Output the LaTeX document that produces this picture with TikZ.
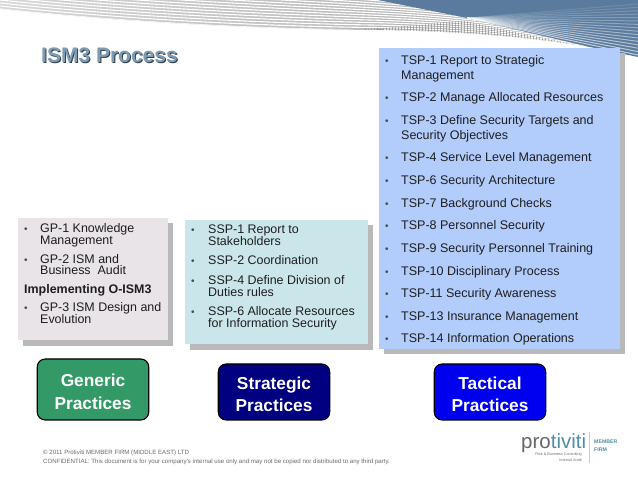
\documentclass[tikz,border=0pt]{standalone}
\usepackage{fontspec}
\setmainfont{Liberation Sans}
\usetikzlibrary{calc}
\definecolor{greybox}{HTML}{E8E4E8}
\definecolor{cyanbox}{HTML}{CBE6EA}
\definecolor{bluebox}{HTML}{B2CCFB}
\definecolor{shadowc}{HTML}{B9B9B9}
\definecolor{gengreen}{HTML}{339966}
\definecolor{stratblue}{HTML}{000080}
\definecolor{tacblue}{HTML}{0000F0}
\definecolor{titlefill}{HTML}{7D9CB4}
\definecolor{titleshadow}{HTML}{2F3F4C}
\definecolor{txt}{HTML}{1E1E1E}
\definecolor{foot}{HTML}{6A6A6A}
\definecolor{teal}{HTML}{4F8FA5}
\definecolor{swblue}{HTML}{5A7B9E}
\tikzset{x=1pt,y=-1pt,
 itemtxt/.style={anchor=base west,inner sep=0pt,text=txt,font=\fontsize{12.45pt}{13pt}\selectfont},
 tsptxt/.style={anchor=base west,inner sep=0pt,text=txt,font=\fontsize{12.5pt}{13pt}\selectfont},
 bullettxt/.style={anchor=base west,inner sep=0pt,text=black!70,font=\fontsize{10pt}{10pt}\selectfont},
 practice/.style={draw=black,line width=1.1pt,rounded corners=8pt,minimum width=111.5pt,inner sep=0pt},
 practicetxt/.style={text=white,align=center,inner sep=0pt,font=\bfseries\fontsize{17.3pt}{22.5pt}\selectfont},
 foottxt/.style={anchor=base west,inner sep=0pt,text=foot,font=\fontsize{6.12pt}{7pt}\selectfont},
}
\begin{document}
\begin{tikzpicture}
\useasboundingbox (0,0) rectangle (638,478);
\fill[white] (0,0) rectangle (638,478);
% top swoosh: grey band
\begin{scope}
\clip (0,0) -- (378,0) -- (467,18) -- (590,47) .. controls (533,38) and (480,32) .. (383,30) .. controls (300,30) and (150,25) .. (0,9) -- cycle;
\shade[left color=black!16,right color=black!34] (0,0) rectangle (600,50);
\foreach \k in {0,...,14}
  \draw[white,line width=1.1pt] (0,{9-3*\k}) .. controls (150,{25-3*\k}) and (300,{30-3*\k}) .. (383,{30-2.4*\k}) .. controls (480,{32-2*\k}) and (533,{38-1.5*\k}) .. (600,{48-1.2*\k});
\draw[black!55,line width=1pt] (240,29.4) .. controls (300,30.5) and (340,30) .. (383,30);
\begin{scope}
\clip (360,32) -- (360,29) .. controls (410,27) and (440,22) .. (465,21) -- (590,48) -- (590,50) -- cycle;
\foreach \k in {0,...,74}
  \draw[black!50,opacity=.6,line width=.8pt] ({365+3*\k},18) -- ({365+3*\k},50);
\end{scope}
\end{scope}
% top swoosh: blue fan
\begin{scope}
\clip (378,0) -- (638,0) -- (638,57) -- (590,47) -- (467,18) -- cycle;
\fill[swblue] (378,0) rectangle (638,60);
\foreach \k in {0,...,15}
  \draw[white,opacity={0.12+0.035*\k},line width=1pt] (467,18) -- (638,{4+3.4*\k});
\end{scope}
% panels
\fill[shadowc] (23,223) rectangle (173,346);
\fill[greybox] (18,218) rectangle (168,340);
\fill[shadowc] (190,225) rectangle (373,350);
\fill[cyanbox] (185,220) rectangle (368,344);
\fill[shadowc] (384,53) rectangle (625,354);
\fill[bluebox] (379,48) rectangle (620,349);
% title
\node (titleb) [anchor=base west,inner sep=0pt,text=titleshadow,font=\bfseries\fontsize{21pt}{23pt}\selectfont] at (42,63.5) {ISM3 Process};
\node (title) [anchor=base west,inner sep=0pt,text=titlefill,font=\bfseries\fontsize{21pt}{23pt}\selectfont] at (41,62.5) {ISM3 Process};
% GP
\node (g0) [bullettxt] at (24,233) {•};
\node (g1) [itemtxt] at (40,233) {GP-1 Knowledge};
\node (g2) [itemtxt] at (40,245) {Management};
\node (g3) [bullettxt] at (24,264) {•};
\node (g4) [itemtxt] at (40,264) {GP-2 ISM and};
\node (g5) [itemtxt] at (40,275) {Business\ \ Audit};
\node (g6) [itemtxt,font=\bfseries\fontsize{12.45pt}{13pt}\selectfont] at (24,294) {Implementing O-ISM3};
\node (g7) [bullettxt] at (24,312) {•};
\node (g8) [itemtxt] at (40,312) {GP-3 ISM Design and};
\node (g9) [itemtxt] at (40,323.5) {Evolution};
% SSP
\node (s0) [bullettxt] at (191,234) {•};
\node (s1) [itemtxt] at (208,234) {SSP-1 Report to};
\node (s2) [itemtxt] at (208,246) {Stakeholders};
\node (s3) [bullettxt] at (191,265) {•};
\node (s4) [itemtxt] at (208,265) {SSP-2 Coordination};
\node (s5) [bullettxt] at (191,285) {•};
\node (s6) [itemtxt] at (208,285) {SSP-4 Define Division of};
\node (s7) [itemtxt] at (208,297) {Duties rules};
\node (s8) [bullettxt] at (191,316) {•};
\node (s9) [itemtxt] at (208,316) {SSP-6 Allocate Resources};
\node (s10) [itemtxt] at (208,328) {for Information Security};
% TSP
\foreach \n/\yy/\t in {1/65/TSP-1 Report to Strategic,1b/80/Management,2/102/TSP-2 Manage Allocated Resources,3/125/TSP-3 Define Security Targets and,3b/140/Security Objectives,4/162/TSP-4 Service Level Management,6/185/TSP-6 Security Architecture,7/208/TSP-7 Background Checks,8/230/TSP-8 Personnel Security,9/253/TSP-9 Security Personnel Training,10/276/TSP-10 Disciplinary Process,11/298/TSP-11 Security Awareness,13/321/TSP-13 Insurance Management,14/343/TSP-14 Information Operations}
  {\node (t\n) [tsptxt] at (401,\yy) {\t};}
\foreach \n/\yy in {1/65,2/102,3/125,4/162,6/185,7/208,8/230,9/253,10/276,11/298,13/321,14/343}
  {\node (b\n) [bullettxt] at (385,\yy) {•};}
% practices
\node (gp) [practice,fill=gengreen,minimum height=61pt] at (93,389.5) {};
\node (gpt) [practicetxt] at (93,392) {Generic\\Practices};
\node (sp) [practice,fill=stratblue,minimum height=56pt] at (274,392) {};
\node (spt) [practicetxt] at (274,394.5) {Strategic\\Practices};
\node (tp) [practice,fill=tacblue,minimum height=56pt] at (490,392) {};
\node (tpt) [practicetxt] at (490,394.5) {Tactical\\Practices};
% footer
\node (f1) [foottxt] at (43,455) {© 2011 Protiviti MEMBER FIRM (MIDDLE EAST) LTD};
\node (f2) [foottxt] at (43,463.5) {CONFIDENTIAL: This document is for your company's internal use only and may not be copied nor distributed to any third party.};
% logo
\node (logo) [anchor=base west,inner sep=0pt,text=black!60,font=\fontsize{20.5pt}{21pt}\selectfont] at (521,449) {pro\textcolor{teal}{tiviti}};
\node (l2) [anchor=base east,inner sep=0pt,text=black!55,font=\fontsize{3.8pt}{4pt}\selectfont] at (582,456) {Risk \& Business Consulting};
\node (l3) [anchor=base east,inner sep=0pt,text=black!55,font=\fontsize{3.8pt}{4pt}\selectfont] at (582,461.5) {Internal Audit};
\draw[black!20,line width=.6pt] (589,432) -- (589,463);
\node (m1) [anchor=base west,inner sep=0pt,text=teal,font=\bfseries\fontsize{5.2pt}{6pt}\selectfont] at (594,444) {MEMBER};
\node (m2) [anchor=base west,inner sep=0pt,text=teal,font=\bfseries\fontsize{5.2pt}{6pt}\selectfont] at (594,451.5) {FIRM};
\end{tikzpicture}
\end{document}
